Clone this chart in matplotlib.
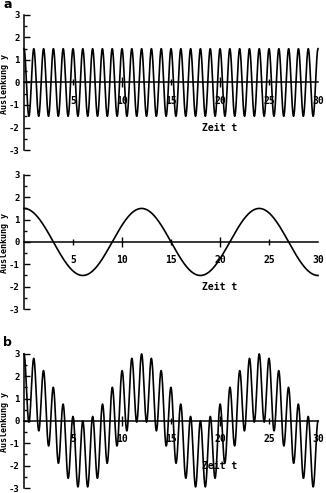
import numpy as np
import matplotlib
matplotlib.use('Agg')
import matplotlib.pyplot as plt
from matplotlib.ticker import MultipleLocator

# values
amplitude = 1.5          # both oscillations
period_fast = 1.0        # panel a, top
period_slow = 12.0       # panel a, bottom
t_max = 30.0
x_major = [10, 20, 30]
x_minor = [5, 15, 25]
y_ticks = [-3, -2, -1, 0, 1, 2, 3]
xlabel = 'Zeit t'
ylabel = 'Auslenkung y'

plt.rcParams['font.family'] = ['DejaVu Sans Mono']
plt.rcParams['font.weight'] = 'bold'
plt.rcParams['axes.unicode_minus'] = False

t = np.linspace(0, t_max, 3000)
y_fast = amplitude * np.cos(2 * np.pi * t / period_fast)
y_slow = amplitude * np.cos(2 * np.pi * t / period_slow)
y_sum = y_fast + y_slow

fig = plt.figure(figsize=(3.26, 4.93), dpi=100)
boxes = [[0.0736, 0.6957, 0.902, 0.274],
         [0.0736, 0.3732, 0.902, 0.272],
         [0.0736, 0.0101, 0.902, 0.272]]

def style_axes(ax):
  ax.set_xlim(0, t_max)
  ax.set_ylim(-3, 3)
  ax.spines['top'].set_visible(False)
  ax.spines['right'].set_visible(False)
  ax.spines['bottom'].set_position(('data', 0))
  ax.spines['bottom'].set_linewidth(1.1)
  ax.spines['left'].set_linewidth(1.1)
  ax.set_xticks(x_major)
  ax.set_xticks(x_minor, minor=True)
  ax.set_xticklabels([str(v) for v in x_major], fontsize=7, fontweight='bold')
  ax.set_xticklabels([str(v) for v in x_minor], minor=True, fontsize=7, fontweight='bold')
  ax.tick_params(axis='x', which='major', direction='inout', length=7, width=1, pad=6)
  ax.tick_params(axis='x', which='minor', direction='inout', length=4, width=1, pad=7.5)
  ax.xaxis.get_major_ticks()[-1].tick1line.set_visible(False)
  ax.set_yticks(y_ticks)
  ax.yaxis.set_minor_locator(MultipleLocator(0.5))
  ax.set_yticklabels([str(v) for v in y_ticks], fontsize=6.5, fontweight='bold')
  ax.tick_params(axis='y', which='major', direction='in', length=4, width=1, pad=3)
  ax.tick_params(axis='y', which='minor', direction='in', length=2.5, width=1)
  ax.set_ylabel(ylabel, fontsize=6, fontweight='bold', va='center')
  ax.yaxis.set_label_coords(-0.066, 0.49)
  ax.text(20, -2, xlabel, fontsize=7, fontweight='bold', ha='center', va='center')
  ax.patch.set_visible(False)

for box, y in zip(boxes, [y_fast, y_slow, y_sum]):
  ax = fig.add_axes(box)
  ax.plot(t, y, color='black', lw=1.2, clip_on=False)
  style_axes(ax)

fig.text(3 / 326, 1 - 5 / 493, 'a', fontsize=9, fontweight='bold', family='DejaVu Sans', ha='left', va='center')
fig.text(3 / 326, 1 - 342 / 493, 'b', fontsize=9, fontweight='bold', family='DejaVu Sans', ha='left', va='center')

fig.savefig('out.png', dpi=100, facecolor='white')
